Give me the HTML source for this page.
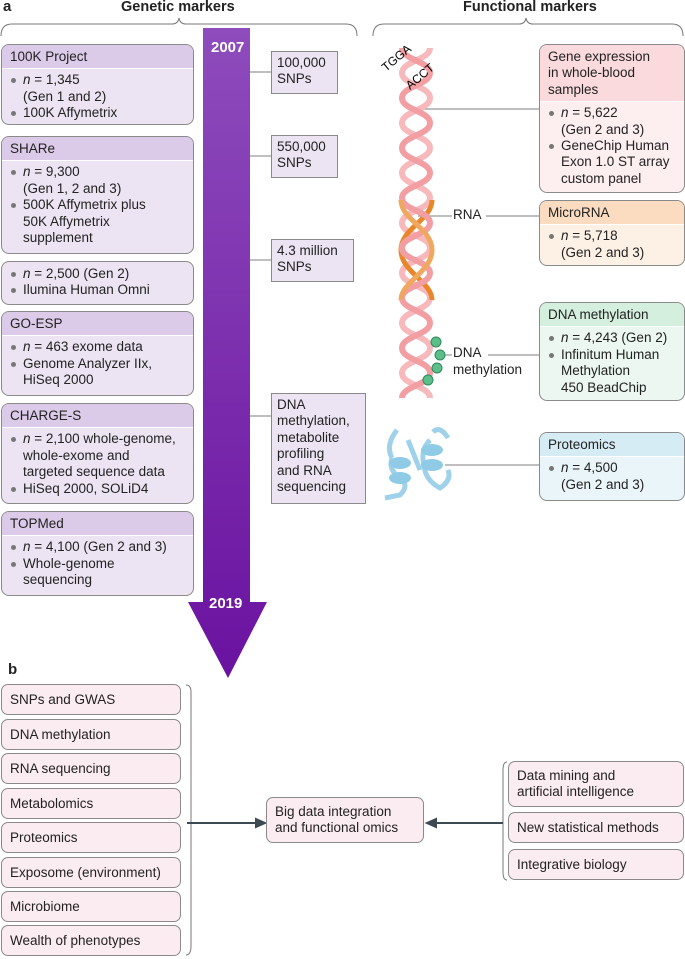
<!DOCTYPE html>
<html><head><meta charset="utf-8"><style>
body{margin:0;width:685px;height:959px;position:relative;background:#fff;font-family:"Liberation Sans",sans-serif;color:#222;overflow:hidden}
.a{position:absolute}
.box{position:absolute;border:1px solid #8a8a8a;border-radius:8px;overflow:hidden;font-size:13.5px;line-height:16.4px;box-sizing:border-box}
.box .h{padding:4px 8px 3px;border-bottom:1px solid #fff}
.box .b{padding:3px 6px 3px 8px}
.p .h{background:#dccbe8}.p{background:#ede4f3}
.r .h{background:#fadadd}.r{background:#fdeef0}
.o .h{background:#fbdcc0}.o{background:#fdf1e6}
.g .h{background:#d5efdf}.g{background:#ebf7f0}
.bl .h{background:#d6ecf5}.bl{background:#eaf5fa}
.li{padding-left:13px;position:relative}
.li:before{content:"";position:absolute;left:1px;top:6px;width:5px;height:5px;border-radius:50%;background:#777}
.sq{position:absolute;border:1px solid #8a8a8a;background:#ede4f3;font-size:13.5px;line-height:16.4px;padding:3px 5px;box-sizing:border-box}
.pb{position:absolute;border:1px solid #8a8a8a;border-radius:7px;background:#fbecf1;font-size:13.5px;line-height:16px;padding:0 8px;box-sizing:border-box;display:flex;align-items:center}
.t{font-weight:bold;font-size:14.5px}
</style></head><body>
<svg class="a" style="left:0;top:0" width="685" height="959">
<defs><linearGradient id="pg" x1="0" y1="0" x2="0" y2="1"><stop offset="0" stop-color="#8e4cbc"/><stop offset="1" stop-color="#6a12a0"/></linearGradient></defs>
<path d="M1,36 Q1,24 12,24 L172,24 Q178,24 179,18 Q180,24 186,24 L346,24 Q357,24 357,36" fill="none" stroke="#777"/>
<path d="M373,36 Q373,24 384,24 L519,24 Q525,24 526,18 Q527,24 533,24 L672,24 Q683,24 683,36" fill="none" stroke="#777"/>
<path d="M203,28 L250,28 L250,602 L267,602 L228,678 L188,602 L203,602 Z" fill="url(#pg)"/>
<g stroke="#999" stroke-width="1.2">
<line x1="250" y1="72" x2="271" y2="72"/><line x1="250" y1="156" x2="271" y2="156"/><line x1="250" y1="260" x2="271" y2="260"/><line x1="250" y1="416" x2="271" y2="416"/>
<line x1="418" y1="109" x2="539" y2="109"/><line x1="418" y1="216" x2="452" y2="216"/><line x1="486" y1="216" x2="539" y2="216"/>
<line x1="443" y1="355" x2="452" y2="355"/><line x1="488" y1="355" x2="539" y2="355"/><line x1="445" y1="465" x2="539" y2="465"/>
</g>
<path d="M430,48 C430,60 402,61 402,73 S430,86 430,98 S402,111 402,123 S430,136 430,148 S402,161 402,173 S430,186 430,198 S402,211 402,223 S430,236 430,248 S402,261 402,273 S430,286 430,298 S402,311 402,323 S430,336 430,348 S402,361 402,373 S430,386 430,398" fill="none" stroke="#f7b9bc" stroke-width="6"/>
<path d="M432,200 C432,220 401,228 401,250 S432,282 432,300" fill="none" stroke="#e8872a" stroke-width="5"/>
<path d="M402,48 C402,60 430,61 430,73 S402,86 402,98 S430,111 430,123 S402,136 402,148 S430,161 430,173 S402,186 402,198 S430,211 430,223 S402,236 402,248 S430,261 430,273 S402,286 402,298 S430,311 430,323 S402,336 402,348 S430,361 430,373 S402,386 402,398" fill="none" stroke="#f39ea3" stroke-width="6"/>
<path d="M401,200 C401,220 432,228 432,250 S401,282 401,300" fill="none" stroke="#f0a860" stroke-width="5"/>
<g fill="#5cbf8a" stroke="#2f8a5a"><circle cx="436" cy="342" r="5"/><circle cx="440" cy="355" r="5"/><circle cx="437" cy="368" r="5"/><circle cx="428" cy="380" r="5"/></g>
<text x="386" y="72" font-size="12" transform="rotate(-40 386 72)" font-family="Liberation Sans">TGGA</text>
<text x="410" y="90" font-size="12" transform="rotate(-40 410 90)" font-family="Liberation Sans">ACCT</text>
<g fill="none" stroke="#9fd2ea" stroke-width="5">
<path d="M397,430 Q385,445 392,458 M392,458 Q388,470 400,478 Q410,485 400,495 L385,498"/>
<path d="M433,432 Q440,425 448,438 M430,440 Q420,450 424,465 Q425,480 440,488 Q452,480 448,470"/>
<path d="M408,440 L420,470"/>
</g>
<g fill="#8fcbe6"><ellipse cx="400" cy="463" rx="11" ry="6"/><ellipse cx="400" cy="478" rx="11" ry="6"/><ellipse cx="432" cy="450" rx="11" ry="6"/><ellipse cx="432" cy="465" rx="11" ry="6"/></g>
<path d="M186,685 Q191,685 191,692 L191,946 Q191,955 186,955" fill="none" stroke="#777"/>
<path d="M507,762 Q503,762 503,770 L503,872 Q503,880 507,880" fill="none" stroke="#777"/>
<g stroke="#3e4a52" stroke-width="2" fill="#3e4a52"><line x1="187" y1="823" x2="258" y2="823"/><path d="M265,823 L256,819 L256,827Z"/><line x1="503" y1="823" x2="434" y2="823"/><path d="M427,823 L436,819 L436,827Z"/></g>
<text x="211" y="52" fill="#fff" font-weight="bold" font-size="15" font-family="Liberation Sans">2007</text>
<text x="209" y="608" fill="#fff" font-weight="bold" font-size="15" font-family="Liberation Sans">2019</text>
</svg>
<div class="a t" style="left:3px;top:-2px;font-size:15px">a</div>
<div class="a t" style="left:121px;top:-1px">Genetic markers</div>
<div class="a t" style="left:463px;top:-1px">Functional markers</div>
<div class="a t" style="left:8px;top:661px;font-size:15px">b</div>

<div class="box p" style="left:1px;top:44px;width:193px;height:81px"><div class="h">100K Project</div><div class="b"><div class="li"><i>n</i> = 1,345<br>(Gen 1 and 2)</div><div class="li">100K Affymetrix</div></div></div>
<div class="box p" style="left:1px;top:136px;width:193px;height:118px"><div class="h">SHARe</div><div class="b"><div class="li"><i>n</i> = 9,300<br>(Gen 1, 2 and 3)</div><div class="li">500K Affymetrix plus<br>50K Affymetrix<br>supplement</div></div></div>
<div class="box p" style="left:1px;top:261px;width:193px;height:44px"><div class="b" style="padding-top:4px"><div class="li"><i>n</i> = 2,500 (Gen 2)</div><div class="li">Ilumina Human Omni</div></div></div>
<div class="box p" style="left:1px;top:311px;width:193px;height:85px"><div class="h">GO-ESP</div><div class="b"><div class="li"><i>n</i> = 463 exome data</div><div class="li">Genome Analyzer IIx,<br>HiSeq 2000</div></div></div>
<div class="box p" style="left:1px;top:403px;width:193px;height:101px"><div class="h">CHARGE-S</div><div class="b"><div class="li"><i>n</i> = 2,100 whole-genome,<br>whole-exome and<br>targeted sequence data</div><div class="li">HiSeq 2000, SOLiD4</div></div></div>
<div class="box p" style="left:1px;top:511px;width:193px;height:85px"><div class="h">TOPMed</div><div class="b"><div class="li"><i>n</i> = 4,100 (Gen 2 and 3)</div><div class="li">Whole-genome<br>sequencing</div></div></div>

<div class="sq" style="left:271px;top:51px;width:67px;height:43px">100,000<br>SNPs</div>
<div class="sq" style="left:271px;top:135px;width:67px;height:43px">550,000<br>SNPs</div>
<div class="sq" style="left:271px;top:239px;width:83px;height:43px">4.3 million<br>SNPs</div>
<div class="sq" style="left:271px;top:393px;width:95px;height:111px">DNA<br>methylation,<br>metabolite<br>profiling<br>and RNA<br>sequencing</div>

<div class="box r" style="left:539px;top:44px;width:146px;height:149px"><div class="h">Gene expression<br>in whole-blood<br>samples</div><div class="b"><div class="li"><i>n</i> = 5,622<br>(Gen 2 and 3)</div><div class="li">GeneChip Human<br>Exon 1.0 ST array<br>custom panel</div></div></div>
<div class="box o" style="left:539px;top:200px;width:146px;height:66px"><div class="h">MicroRNA</div><div class="b"><div class="li"><i>n</i> = 5,718<br>(Gen 2 and 3)</div></div></div>
<div class="box g" style="left:539px;top:302px;width:146px;height:99px"><div class="h">DNA methylation</div><div class="b"><div class="li"><i>n</i> = 4,243 (Gen 2)</div><div class="li">Infinitum Human<br>Methylation<br>450 BeadChip</div></div></div>
<div class="box bl" style="left:539px;top:432px;width:146px;height:69px"><div class="h">Proteomics</div><div class="b"><div class="li"><i>n</i> = 4,500<br>(Gen 2 and 3)</div></div></div>
<div class="a" style="left:453px;top:207px;font-size:13.5px">RNA</div>
<div class="a" style="left:453px;top:345px;font-size:13.5px;line-height:16.5px">DNA<br>methylation</div>

<div class="pb" style="left:1px;top:684px;width:180px;height:31px">SNPs and GWAS</div>
<div class="pb" style="left:1px;top:719px;width:180px;height:31px">DNA methylation</div>
<div class="pb" style="left:1px;top:753px;width:180px;height:31px">RNA sequencing</div>
<div class="pb" style="left:1px;top:788px;width:180px;height:31px">Metabolomics</div>
<div class="pb" style="left:1px;top:822px;width:180px;height:31px">Proteomics</div>
<div class="pb" style="left:1px;top:857px;width:180px;height:31px">Exposome (environment)</div>
<div class="pb" style="left:1px;top:891px;width:180px;height:31px">Microbiome</div>
<div class="pb" style="left:1px;top:925px;width:180px;height:31px">Wealth of phenotypes</div>
<div class="pb" style="left:266px;top:797px;width:158px;height:46px">Big data integration<br>and functional omics</div>
<div class="pb" style="left:508px;top:761px;width:176px;height:46px">Data mining and<br>artificial intelligence</div>
<div class="pb" style="left:508px;top:812px;width:176px;height:31px">New statistical methods</div>
<div class="pb" style="left:508px;top:849px;width:176px;height:31px">Integrative biology</div>
</body></html>
